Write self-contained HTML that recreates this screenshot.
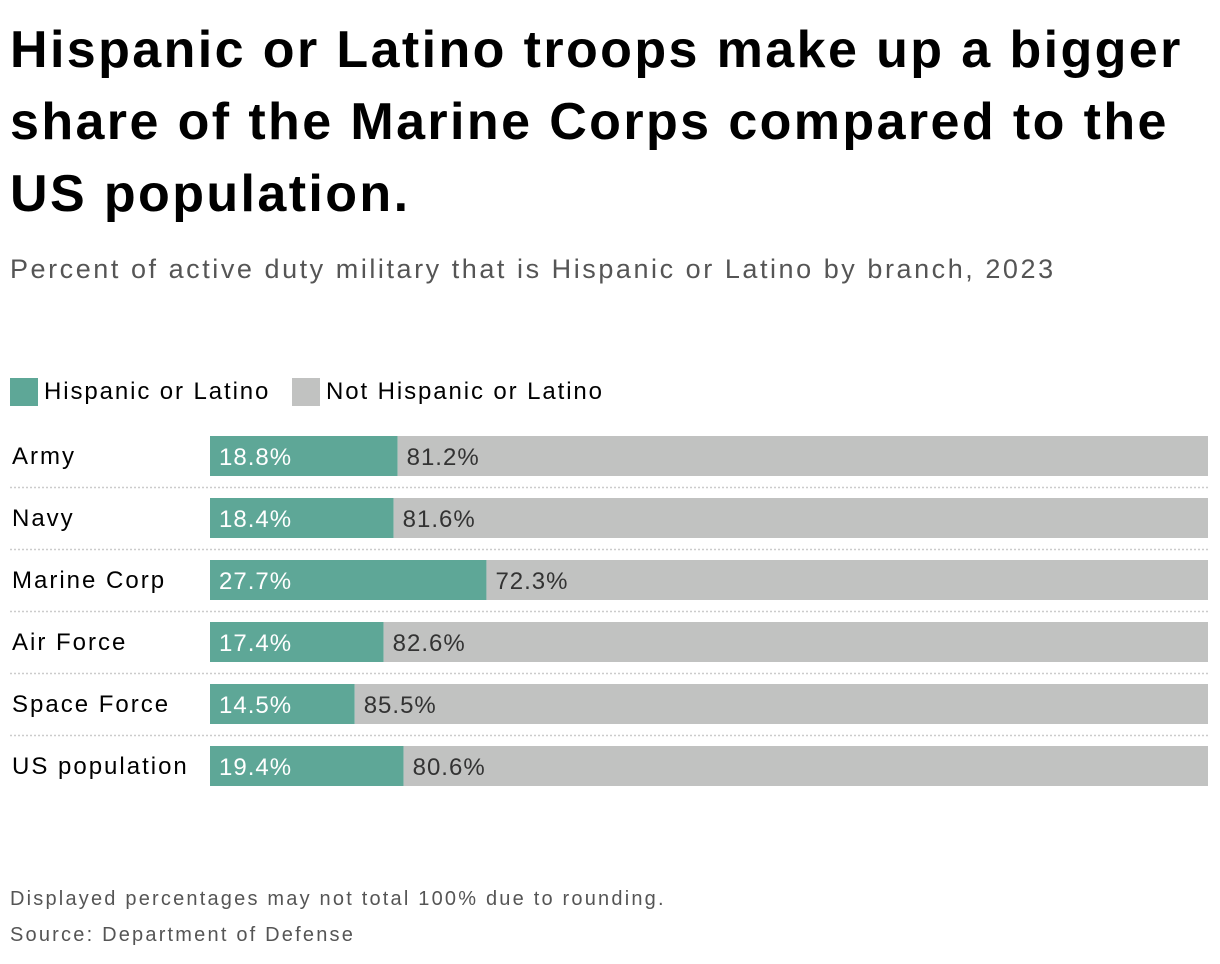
<!DOCTYPE html>
<html><head><meta charset="utf-8"><style>
body{margin:0;width:1220px;height:964px;background:#fff;font-family:"Liberation Sans",sans-serif;overflow:hidden;position:relative}
#title{position:absolute;left:10px;top:14px;width:1210px;font-size:52px;line-height:72px;font-weight:bold;color:#000;letter-spacing:2.4px;white-space:nowrap}
#sub{position:absolute;left:10px;top:254px;font-size:27px;color:#555;letter-spacing:2.55px;white-space:nowrap}
.lg{position:absolute;top:378px;height:28px;font-size:24px;line-height:28px;letter-spacing:1.9px}
.sw{position:absolute;top:378px;width:28px;height:28px}
.foot{position:absolute;left:10px;font-size:20px;color:#555;letter-spacing:2.2px;white-space:nowrap}
</style></head><body>
<div id="title">Hispanic or Latino troops make up a bigger<br>share of the Marine Corps compared to the<br>US population.</div>
<div id="sub">Percent of active duty military that is Hispanic or Latino by branch, 2023</div>
<div class="sw" style="left:10px;background:#5ea797"></div>
<div class="lg" style="left:44px">Hispanic or Latino</div>
<div class="sw" style="left:292px;background:#c1c2c1"></div>
<div class="lg" style="left:326px">Not Hispanic or Latino</div>
<svg id="chart" width="1220" height="964" style="position:absolute;left:0;top:0"></svg>
<div class="foot" style="top:888px">Displayed percentages may not total 100% due to rounding.</div>
<div class="foot" style="top:924px">Source: Department of Defense</div>
<script>
const categories=["Army","Navy","Marine Corp","Air Force","Space Force","US population"];
const hispanic=[18.8,18.4,27.7,17.4,14.5,19.4];
const notHispanic=[81.2,81.6,72.3,82.6,85.5,80.6];
const svg=document.getElementById('chart');
const NS='http://www.w3.org/2000/svg';
const x0=210,x1=1208,y0=436,step=62,bh=40;
const xs=v=>x0+(x1-x0)*v/100;
const ys=i=>y0+i*step;
function mk(t,a){const e=document.createElementNS(NS,t);for(const k in a)e.setAttribute(k,a[k]);svg.appendChild(e);return e;}
categories.forEach((c,i)=>{
  const y=ys(i);
  const lab=mk('text',{x:12,y:y+28,'font-size':24,fill:'#000','letter-spacing':2,'font-family':'Liberation Sans, sans-serif'});
  lab.textContent=c;
  
  
  const w1=xs(hispanic[i])-x0;
  const b1=mk('rect',{x:x0,y:y,width:w1,height:bh,fill:'#5ea797'});
  
  
  const b2=mk('rect',{x:x0+w1,y:y,width:xs(notHispanic[i])-x0,height:bh,fill:'#c1c2c1'});
  
  
  const t1=mk('text',{x:x0+9,y:y+29,'font-size':24,fill:'#fff','letter-spacing':1,'font-family':'Liberation Sans, sans-serif'});
  t1.textContent=hispanic[i].toFixed(1)+'%';
  
  
  const t2=mk('text',{x:x0+w1+9,y:y+29,'font-size':24,fill:'#333','letter-spacing':1,'font-family':'Liberation Sans, sans-serif'});
  t2.textContent=notHispanic[i].toFixed(1)+'%';
  
  
  if(i<categories.length-1){
    const l=mk('line',{x1:10,x2:1208,y1:y+51.5,y2:y+51.5,stroke:'#ccc','stroke-width':1.5,'stroke-dasharray':'2,2'});
    
    
  }
});
</script>
</body></html>
